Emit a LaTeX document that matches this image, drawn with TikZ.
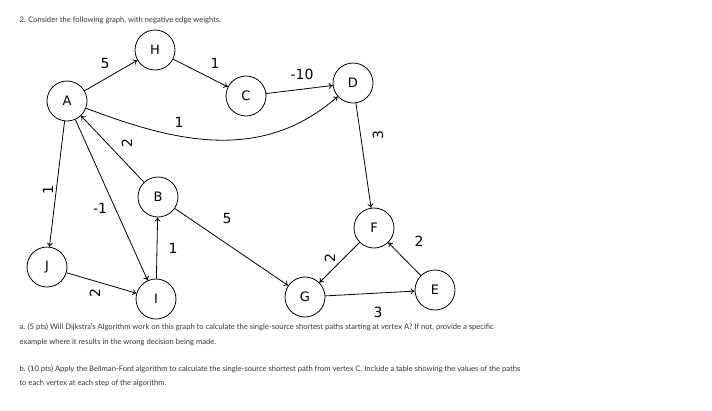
\documentclass[tikz,border=0pt]{standalone}
\usepackage{fontspec}
\usetikzlibrary{arrows.meta}
\setmainfont{Lato}
\newfontfamily\dvfont{DejaVu Sans}
\begin{document}
\begin{tikzpicture}[x=1pt,y=-1pt,
  v/.style={circle,draw,line width=0.8pt,minimum size=40pt,inner sep=0pt,font=\dvfont\fontsize{13}{13}\selectfont},
  e/.style={-{To[length=4pt,width=6pt]},line width=0.8pt},
  w/.style={font=\dvfont\fontsize{14}{14}\selectfont},
  q/.style={font=\fontsize{7.6}{9}\selectfont,anchor=west,text=black!80}]
\useasboundingbox (0,0) rectangle (712,410);
\node[q] (t) at (16,20) {2. Consider the following graph, with negative edge weights.};
\node[v] (H) at (155,50) {H};
\node[v] (A) at (67,101) {A};
\node[v] (C) at (246,96) {C};
\node[v] (D) at (353,83) {D};
\node[v] (B) at (158,197) {B};
\node[v] (J) at (47,267) {J};
\node[v] (I) at (156,299) {I};
\node[v] (G) at (305,297) {G};
\node[v] (F) at (374,228) {F};
\node[v] (E) at (435,290) {E};
\draw[e] (A) -- (H);
\draw[e] (H) -- (C);
\draw[e] (C) -- (D);
\draw[e] (A) .. controls (170,140) and (260,165) .. (D);
\draw[e] (D) -- (F);
\draw[e] (B) -- (A);
\draw[e] (A) -- (J);
\draw[e] (A) -- (I);
\draw[e] (J) -- (I);
\draw[e] (I) -- (B);
\draw[e] (B) -- (G);
\draw[e] (F) -- (G);
\draw[e] (G) -- (E);
\draw[e] (E) -- (F);
\node[w] (l1) at (105,63) {5};
\node[w] (l2) at (215,63) {1};
\node[w] (l3) at (302,74) {-10};
\node[w] (l4) at (179,122) {1};
\node[w,rotate=90] (l5) at (127,143) {2};
\node[w,rotate=90] (l6) at (378,135) {3};
\node[w,rotate=90] (l7) at (48,190) {1};
\node[w] (l8) at (100,208) {-1};
\node[w] (l9) at (173,248) {1};
\node[w] (l10) at (227,218) {5};
\node[w,rotate=90] (l11) at (330,258) {2};
\node[w] (l12) at (419,241) {2};
\node[w,rotate=90] (l13) at (95,293) {2};
\node[w] (l14) at (378,312) {3};
\node[q] (a1) at (16,327) {a. (5 pts) Will Dijkstra's Algorithm work on this graph to calculate the single-source shortest paths starting at vertex A? If not, provide a specific};
\node[q] (a2) at (16,342) {example where it results in the wrong decision being made.};
\node[q] (b1) at (16,369) {b. (10 pts) Apply the Bellman-Ford algorithm to calculate the single-source shortest path from vertex C. Include a table showing the values of the paths};
\node[q] (b2) at (16,383) {to each vertex at each step of the algorithm.};
\end{tikzpicture}
\end{document}
